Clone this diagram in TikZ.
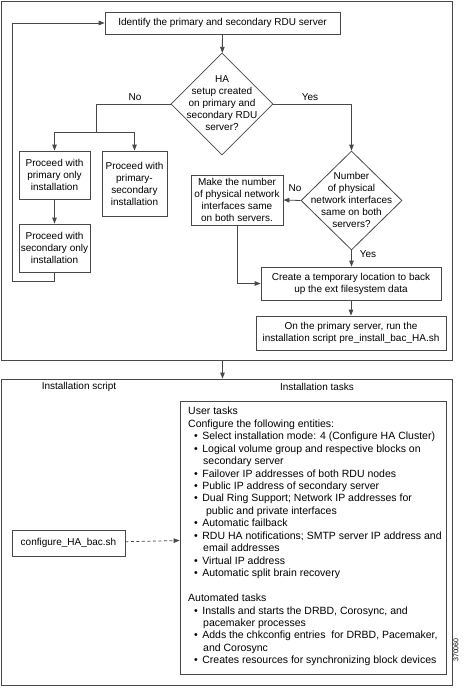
\documentclass[tikz,border=0pt]{standalone}
\usepackage{fontspec}
\setmainfont{Liberation Sans}
\usetikzlibrary{arrows.meta,shapes.geometric}
\definecolor{linegray}{RGB}{72,72,72}
\newcommand{\flowfont}{\fontsize{10}{12}\selectfont}
\newcommand{\taskfont}{\fontsize{10.5}{12.45}\selectfont}
\newcommand{\bul}{\hspace*{6pt}\textbullet\hspace{4.5pt}}
\newcommand{\cont}{\hspace*{15pt}}

\begin{document}
\begin{tikzpicture}[
    x=1pt, y=-1pt,
    >={Triangle[length=6pt,width=4.5pt]},
    box/.style={rectangle, draw=linegray, line width=0.8pt, inner sep=0pt, align=center, font=\flowfont},
    decision/.style={diamond, draw=linegray, line width=0.8pt, inner sep=0pt},
    frame/.style={rectangle, draw=linegray, line width=0.8pt, inner sep=0pt},
    link/.style={->, draw=linegray, line width=0.8pt},
    lbl/.style={inner sep=0pt, align=center, font=\flowfont}
]
\useasboundingbox (0,0) rectangle (463,693);




\node[frame, minimum width=451pt, minimum height=359pt] (topframe) at (226.5,180.5) {};
\node[frame, minimum width=451pt, minimum height=306pt] (lowframe) at (226.5,532) {};
\node[lbl, rotate=90, font=\fontsize{7}{8}\selectfont] (figid) at (456,650) {370060};




\node[box, minimum width=235pt, minimum height=22pt] (identify) at (222.5,23) {Identify the primary and secondary RDU server};
\node[decision, minimum width=102pt, minimum height=102pt] (hasetup) at (222,104) {};
\node[lbl] (hasetuptext) at (222,103) {HA\\setup created\\on primary and\\secondary RDU\\server?};
\node[box, minimum width=71pt, minimum height=48pt] (primonly) at (54.5,175) {Proceed with\\primary only\\installation};
\node[box, minimum width=65pt, minimum height=65pt] (primsec) at (134.5,183.5) {Proceed with\\primary-\\secondary\\installation};
\node[box, minimum width=71pt, minimum height=48pt] (seconly) at (54.5,248) {Proceed with\\secondary only\\installation};
\node[decision, minimum width=101pt, minimum height=99pt] (nics) at (351.5,200.5) {};
\node[lbl] (nicstext) at (351.5,200) {Number\\of physical\\network interfaces\\same on both\\servers?};
\node[box, minimum width=92pt, minimum height=50pt] (makesame) at (237,200) {Make the number\\of physical network\\interfaces same\\on both servers.};
\node[box, minimum width=180pt, minimum height=33pt] (tempdir) at (351,283.5) {Create a temporary location to back\\up the ext filesystem data};
\node[box, minimum width=190pt, minimum height=34pt] (runscript) at (351,333) {On the primary server, run the\\installation script pre\_install\_bac\_HA.sh};

\node[lbl] (nolbl) at (135,97) {No};
\node[lbl] (yeslbl) at (310,97) {Yes};
\node[lbl] (nicsno) at (295,188) {No};
\node[lbl] (nicsyes) at (368,254) {Yes};

\coordinate (split) at (96,132);
\coordinate (loopturn) at (12,281);
\draw[link] (identify) -- (hasetup);
\draw[draw=linegray, line width=0.8pt] (hasetup.west) -| (split);
\draw[link] (split) -| (primonly.north);
\draw[link] (split) -| (primsec.north);
\draw[link] (hasetup.east) -| (nics.north);
\draw[link] (primonly) -- (seconly);
\draw[link] (seconly.south) |- (loopturn) |- (identify.west);
\draw[link] (nics.west) -- (makesame.east);
\draw[link] (makesame.south) |- (tempdir.west);
\draw[link] (nics.south) -- (nics.south |- tempdir.north);
\draw[link] (tempdir) -- (runscript);
\draw[link] (topframe.south -| identify.south) -- (lowframe.north -| identify.south);




\node[lbl] (scripthdr) at (79,387) {Installation script};
\node[lbl] (taskshdr) at (317,387) {Installation tasks};
\node[box, minimum width=266pt, minimum height=273pt] (tasks) at (313,537.5) {};
\node[box, minimum width=113pt, minimum height=26pt] (config) at (68.5,543) {configure\_HA\_bac.sh};
\node[inner sep=0pt, anchor=north west, align=left, font=\taskfont] (tasklist) at (188,407) {%
User tasks\\
Configure the following entities:\\
\bul Select installation mode: 4 (Configure HA Cluster)\\
\bul Logical volume group and respective blocks on\\
\cont secondary server\\
\bul Failover IP addresses of both RDU nodes\\
\bul Public IP address of secondary server\\
\bul Dual Ring Support; Network IP addresses for\\
\cont\ public and private interfaces\\
\bul Automatic failback\\
\bul RDU HA notifications; SMTP server IP address and\\
\cont email addresses\\
\bul Virtual IP address\\
\bul Automatic split brain recovery\\[12.45pt]
Automated tasks\\
\bul Installs and starts the DRBD, Corosync, and\\
\cont pacemaker processes\\
\bul Adds the chkconfig entries \ for DRBD, Pacemaker,\\
\cont and Corosync\\
\bul Creates resources for synchronizing block devices};
\draw[link, dash pattern=on 3pt off 2.5pt] (config) -- (tasks);

\end{tikzpicture}
\end{document}
